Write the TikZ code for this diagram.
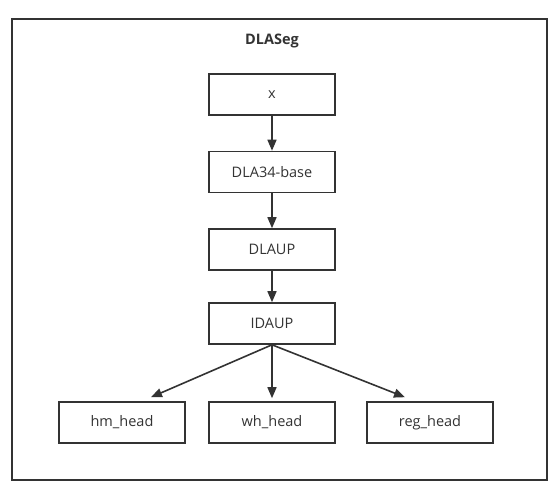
\documentclass[tikz,border=0pt]{standalone}
\usepackage{fontspec}
\setmainfont{Open Sans}
\usetikzlibrary{arrows.meta}
\definecolor{ink}{HTML}{333333}
\begin{document}
\begin{tikzpicture}[x=1pt,y=-1pt,
  blk/.style={draw=ink,line width=1.6pt,minimum width=126pt,minimum height=41pt,inner sep=0pt,font=\fontsize{14.5}{16}\selectfont,text=ink},
  arr/.style={draw=ink,line width=1.6pt,-{Triangle[length=11pt,width=9pt]}},
  ttl/.style={font=\fontsize{14.5}{16}\selectfont\bfseries,text=ink}]
\useasboundingbox (0,0) rectangle (559,490);
\node[draw=ink,line width=1.8pt,minimum width=535pt,minimum height=461pt,inner sep=0pt] (frame) at (279.5,249.5) {};
\node[ttl] (title) at (272,41) {DLASeg};
\node[blk] (x) at (272,94.5) {x};
\node[blk] (dla) at (272,172) {DLA34-base};
\node[blk] (dlaup) at (272,249.5) {DLAUP};
\node[blk] (idaup) at (272,323.5) {IDAUP};
\node[blk] (hm) at (122,422.5) {hm\_head};
\node[blk] (wh) at (272,422.5) {wh\_head};
\node[blk] (reg) at (430,422.5) {reg\_head};
\draw[arr] (x) -- (dla);
\draw[arr] (dla) -- (dlaup);
\draw[arr] (dlaup) -- (idaup);
\draw[arr] (idaup.south) -- ([xshift=29pt,yshift=4pt]hm.north);
\draw[arr] (idaup.south) -- ([yshift=3pt]wh.north);
\draw[arr] (idaup.south) -- ([xshift=-25pt,yshift=4pt]reg.north);
\end{tikzpicture}
\end{document}
